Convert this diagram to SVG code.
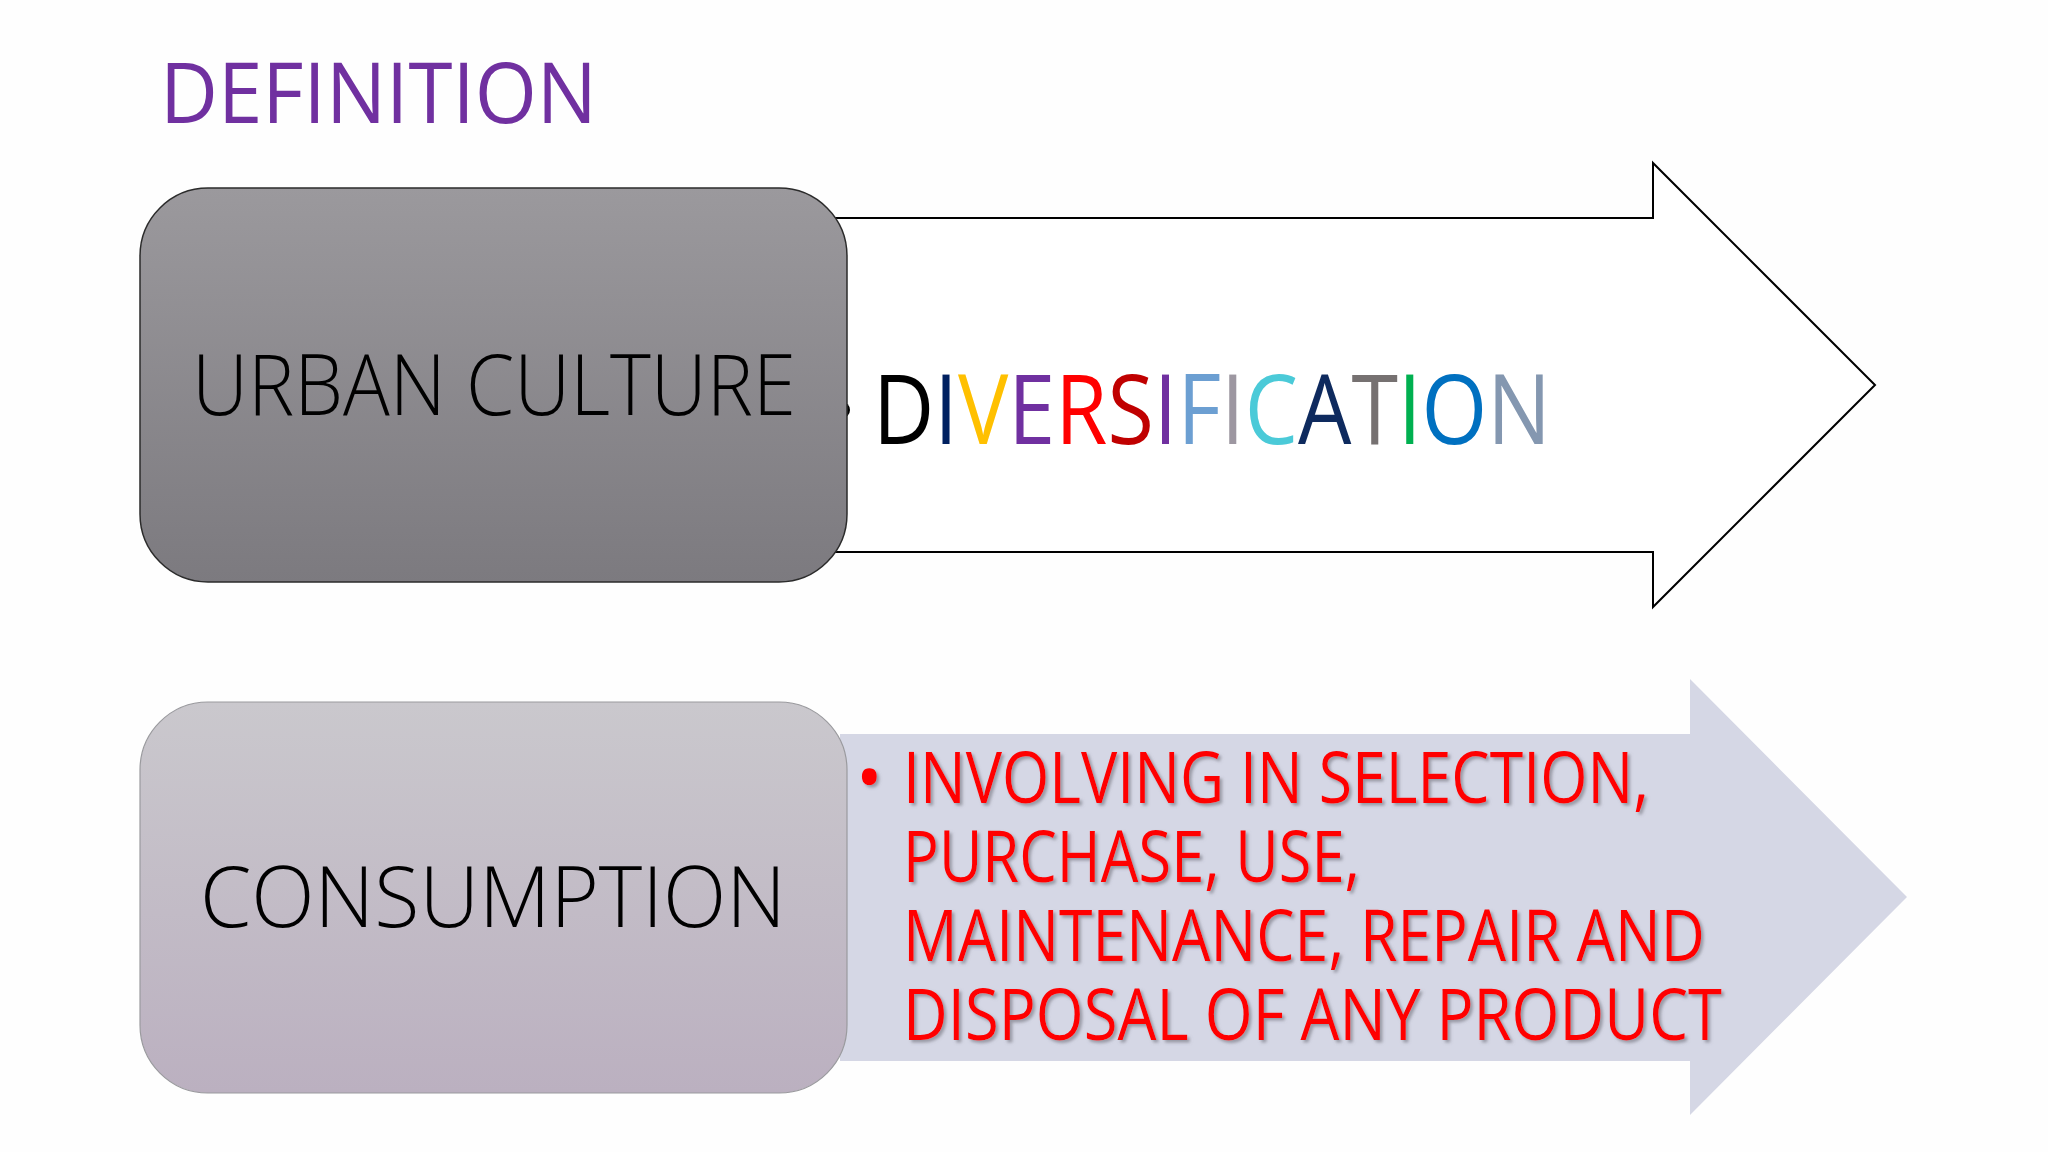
<svg xmlns="http://www.w3.org/2000/svg" width="2048" height="1152" viewBox="0 0 2048 1152">
  <defs>
    <linearGradient id="gDark" x1="0" y1="0" x2="0" y2="1">
      <stop offset="0" stop-color="#9b999d"/>
      <stop offset="1" stop-color="#7c7a7f"/>
    </linearGradient>
    <linearGradient id="gLight" x1="0" y1="0" x2="0" y2="1">
      <stop offset="0" stop-color="#cac8cd"/>
      <stop offset="1" stop-color="#bbb0c0"/>
    </linearGradient>
    <filter id="shadow" x="-5%" y="-20%" width="110%" height="140%">
      <feDropShadow dx="2.5" dy="2.5" stdDeviation="1.5" flood-color="#6e6e78" flood-opacity="0.6"/>
    </filter>
    <style>
      .title { font-family: "Open Sans", "Noto Sans", sans-serif; font-size: 84px; fill: #7030A0; }
      .box-label { font-family: "Open Sans", "Noto Sans", sans-serif; font-weight: 300; font-size: 84px; fill: #000000; }
      .div { font-family: "Open Sans", "Noto Sans", sans-serif; font-size: 97px; }
      .red { font-family: "Open Sans", "Noto Sans", sans-serif; font-size: 71px; fill: #FF0000; }
    </style>
  </defs>
  <rect x="0" y="0" width="2048" height="1152" fill="#fefefe"/>

  <text class="title" x="160" y="123" textLength="437" lengthAdjust="spacingAndGlyphs">DEFINITION</text>

  <g id="connectors">
    <g id="arrow-top">
      <polygon points="830,218 1653,218 1653,163 1875,385 1653,607 1653,552 830,552" fill="#ffffff" stroke="#000000" stroke-width="2"/>
      <circle cx="842" cy="410" r="8" fill="#000000"/>
      <text class="div" x="873" y="444" textLength="678" lengthAdjust="spacingAndGlyphs"><tspan fill="#000000">D</tspan><tspan fill="#002060">I</tspan><tspan fill="#FFC000">V</tspan><tspan fill="#7030A0">E</tspan><tspan fill="#FF0000">R</tspan><tspan fill="#C00000">S</tspan><tspan fill="#7030A0">I</tspan><tspan fill="#6C9FD2">F</tspan><tspan fill="#9D97A1">I</tspan><tspan fill="#4BCAD8">C</tspan><tspan fill="#0E2A5E">A</tspan><tspan fill="#767171">T</tspan><tspan fill="#00B050">I</tspan><tspan fill="#0070C0">O</tspan><tspan fill="#8497B0">N</tspan></text>
    </g>
    <g id="arrow-bottom">
      <polygon points="840,734 1690,734 1690,679 1907,897 1690,1115 1690,1061 840,1061" fill="#d5d7e5"/>
      <g filter="url(#shadow)">
        <text class="red" x="856" y="803">•</text>
        <text class="red" x="903" y="803" textLength="746" lengthAdjust="spacingAndGlyphs">INVOLVING IN SELECTION,</text>
        <text class="red" x="903" y="882" textLength="457" lengthAdjust="spacingAndGlyphs">PURCHASE, USE,</text>
        <text class="red" x="903" y="961" textLength="802" lengthAdjust="spacingAndGlyphs">MAINTENANCE, REPAIR AND</text>
        <text class="red" x="903" y="1040" textLength="819" lengthAdjust="spacingAndGlyphs">DISPOSAL OF ANY PRODUCT</text>
      </g>
    </g>
  </g>

  <g id="node-urban-culture">
    <rect x="140" y="188" width="707" height="394" rx="68" ry="68" fill="url(#gDark)" stroke="#2b2b2b" stroke-width="1.5"/>
    <text class="box-label" x="192" y="415" textLength="604" lengthAdjust="spacingAndGlyphs">URBAN CULTURE</text>
  </g>

  <g id="node-consumption">
    <rect x="140" y="702" width="707" height="391" rx="68" ry="68" fill="url(#gLight)" stroke="#9a9a9e" stroke-width="1.2"/>
    <text class="box-label" x="200" y="927" textLength="586" lengthAdjust="spacingAndGlyphs">CONSUMPTION</text>
  </g>
</svg>
